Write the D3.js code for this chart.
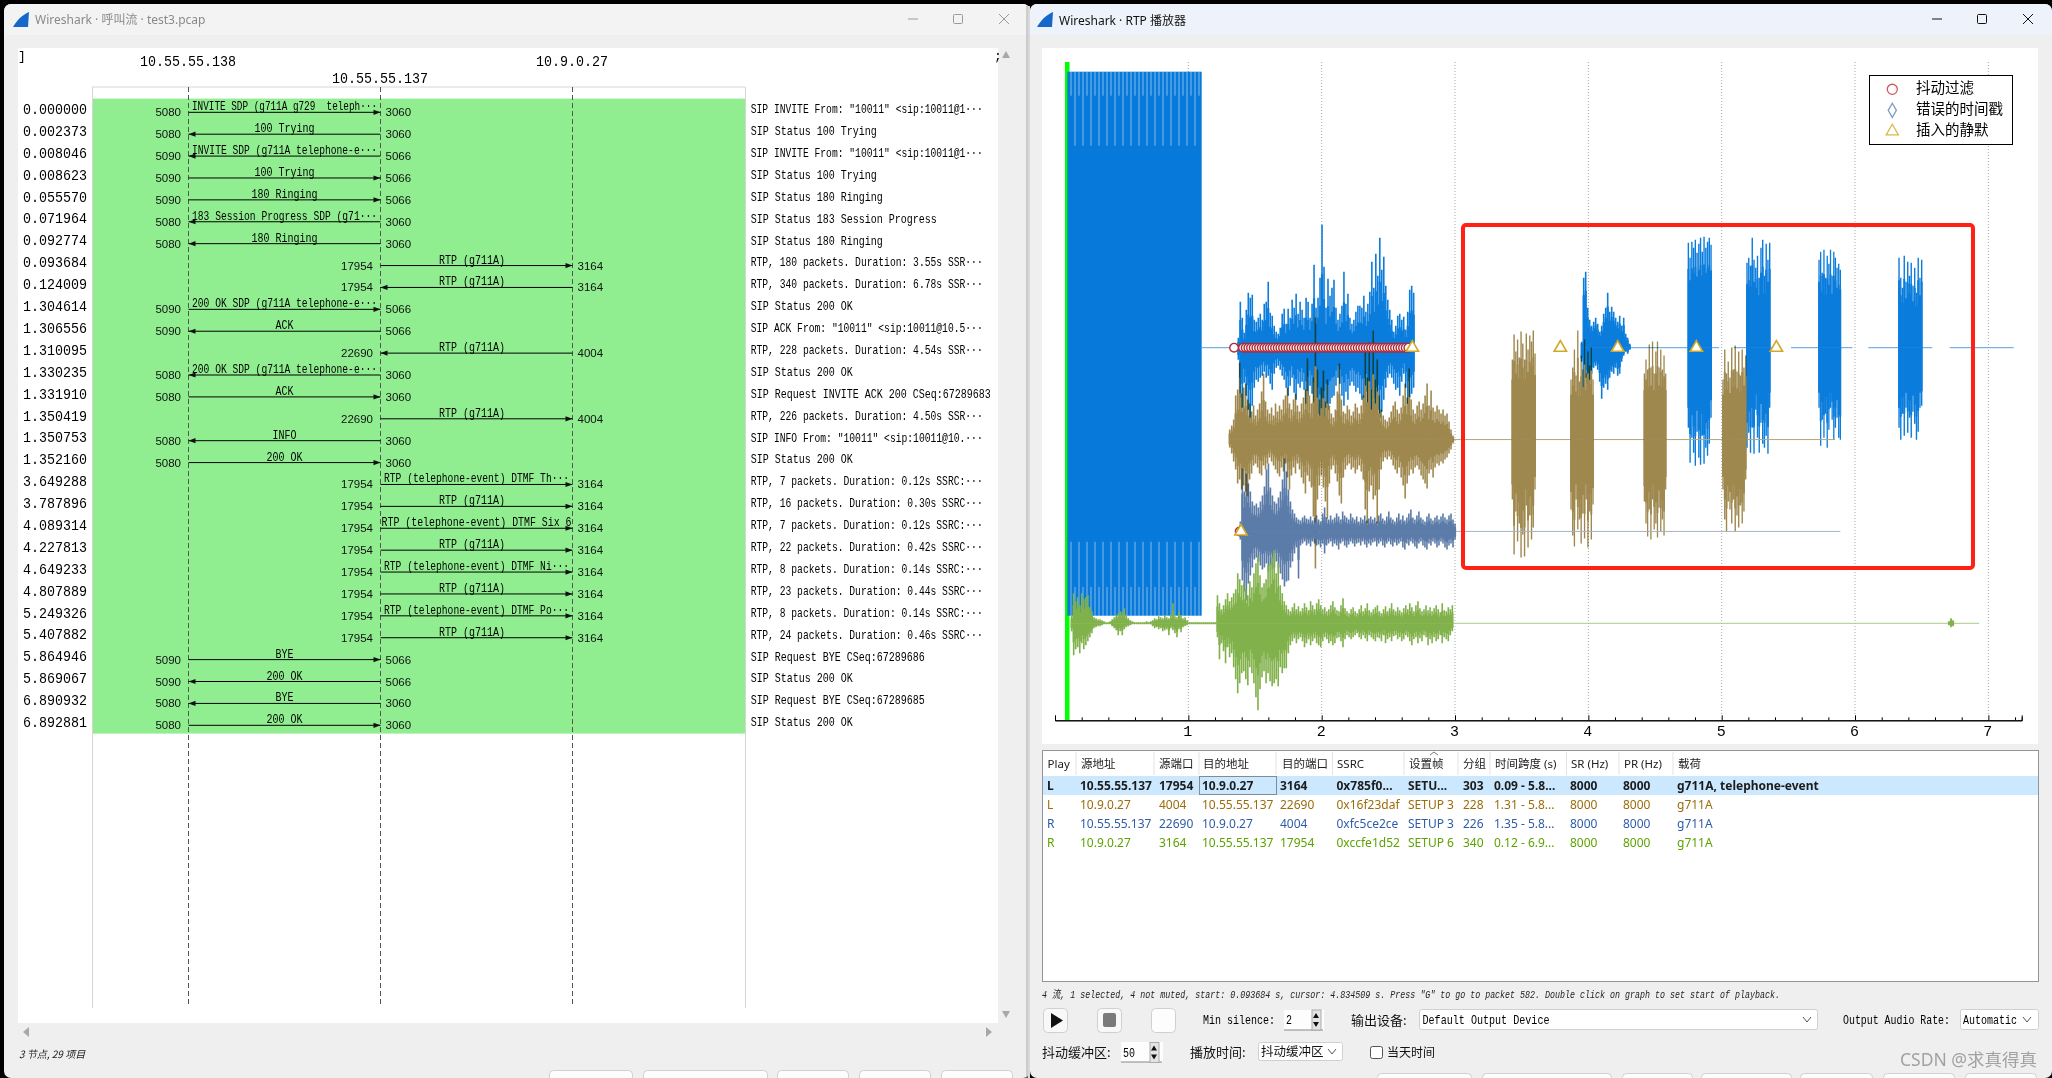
<!DOCTYPE html>
<html>
<head>
<meta charset="utf-8">
<title>Wireshark RTP</title>
<script src="https://cdn.jsdelivr.net/npm/d3@7"></script>
<style>
	html, body { margin: 0; padding: 0; background: #000; overflow: hidden; }
	svg { display: block; }
	text { white-space: pre; }
</style>
</head>
<body>
<svg id="shot" width="2052" height="1078"></svg>
<script>
// flow graph rows
var times = ['0.000000','0.002373','0.008046','0.008623','0.055570','0.071964','0.092774','0.093684','0.124009','1.304614','1.306556','1.310095','1.330235','1.331910','1.350419','1.350753','1.352160','3.649288','3.787896','4.089314','4.227813','4.649233','4.807889','5.249326','5.407882','5.864946','5.869067','6.890932','6.892881'];
var fromNode = [0,1,1,0,0,1,1,1,2,0,1,2,1,0,1,1,0,1,1,1,1,1,1,1,1,0,1,1,0];
var toNode = [1,0,0,1,1,0,0,2,1,1,0,1,0,1,2,0,1,2,2,2,2,2,2,2,2,1,0,0,1];
var leftPorts = [5080,5080,5090,5090,5090,5080,5080,17954,17954,5090,5090,22690,5080,5080,22690,5080,5080,17954,17954,17954,17954,17954,17954,17954,17954,5090,5090,5080,5080];
var rightPorts = [3060,3060,5066,5066,5066,3060,3060,3164,3164,5066,5066,4004,3060,3060,4004,3060,3060,3164,3164,3164,3164,3164,3164,3164,3164,5066,5066,3060,3060];
var flowLabels = ['INVITE SDP (g711A g729  teleph···','100 Trying','INVITE SDP (g711A telephone-e···','100 Trying','180 Ringing','183 Session Progress SDP (g71···','180 Ringing','RTP (g711A)','RTP (g711A)','200 OK SDP (g711A telephone-e···','ACK','RTP (g711A)','200 OK SDP (g711A telephone-e···','ACK','RTP (g711A)','INFO','200 OK','RTP (telephone-event) DTMF Th···','RTP (g711A)','RTP (telephone-event) DTMF Six 6','RTP (g711A)','RTP (telephone-event) DTMF Ni···','RTP (g711A)','RTP (telephone-event) DTMF Po···','RTP (g711A)','BYE','200 OK','BYE','200 OK'];
var comments = ['SIP INVITE From: "10011" <sip:10011@1···','SIP Status 100 Trying','SIP INVITE From: "10011" <sip:10011@1···','SIP Status 100 Trying','SIP Status 180 Ringing','SIP Status 183 Session Progress','SIP Status 180 Ringing','RTP, 180 packets. Duration: 3.55s SSR···','RTP, 340 packets. Duration: 6.78s SSR···','SIP Status 200 OK','SIP ACK From: "10011" <sip:10011@10.5···','RTP, 228 packets. Duration: 4.54s SSR···','SIP Status 200 OK','SIP Request INVITE ACK 200 CSeq:67289683','RTP, 226 packets. Duration: 4.50s SSR···','SIP INFO From: "10011" <sip:10011@10.···','SIP Status 200 OK','RTP, 7 packets. Duration: 0.12s SSRC:···','RTP, 16 packets. Duration: 0.30s SSRC···','RTP, 7 packets. Duration: 0.12s SSRC:···','RTP, 22 packets. Duration: 0.42s SSRC···','RTP, 8 packets. Duration: 0.14s SSRC:···','RTP, 23 packets. Duration: 0.44s SSRC···','RTP, 8 packets. Duration: 0.14s SSRC:···','RTP, 24 packets. Duration: 0.46s SSRC···','SIP Request BYE CSeq:67289686','SIP Status 200 OK','SIP Request BYE CSeq:67289685','SIP Status 200 OK'];
var nodeNames = ['10.55.55.138','10.55.55.137','10.9.0.27'];

// waveform envelopes, amplitude units where the clipped tone block is about 272
var blueSpeechTop = [10,46,30,15,38,55,50,53,28,26,30,34,28,44,46,66,35,32,22,16,14,20,34,39,24,39,30,48,40,54,34,46,38,30,50,46,30,44,83,40,50,70,123,81,40,69,52,60,68,40,28,34,42,76,44,54,30,24,28,36,42,42,40,52,36,44,56,86,60,94,72,110,78,91,62,48,38,28,16,22,32,34,28,31,18,36,58,62,55];
var blueSpeechBottom = [12,50,60,35,48,62,70,58,40,32,34,30,28,24,30,28,36,42,26,20,18,22,28,32,40,48,38,30,45,52,36,40,34,42,56,48,38,46,58,50,66,78,84,72,60,62,56,50,48,38,30,36,48,58,44,52,38,34,38,44,40,46,52,50,44,56,68,72,84,66,62,70,64,52,40,30,26,30,36,42,40,48,34,26,40,56,50,46,40];
var blueTalkTop = [6,70,76,40,28,22,26,30,24,16,22,34,40,55,36,41,36,30,26,32,22,30,14,10,4];
var blueTalkBottom = [14,54,30,36,32,26,20,18,22,34,51,40,36,42,30,24,26,20,28,26,14,8,4,6,2];
var blueToneATop = [105,90,106,100,108,95,104,110,96,111,100,106,110,103];
var blueToneABottom = [80,115,90,105,118,84,110,117,88,116,100,108,96,70];
var blueToneBTop = [85,90,82,110,88,80,92,70,100,108,72,104,88,105];
var blueToneBBottom = [100,85,105,80,106,62,90,105,75,96,100,88,106,60];
var blueToneCTop = [88,96,75,98,70,92,84,98,72,96,90,80,84,78];
var blueToneCBottom = [60,98,72,90,66,100,82,60,72,92,80,70,90,92];
var blueToneDTop = [90,70,60,92,66,86,72,85,62,80,55,90,70,88];
var blueToneDBottom = [80,92,66,88,60,85,70,90,64,76,92,84,60,58];
var brownSpeechTop = [10,14,20,44,50,77,46,52,56,40,36,28,34,24,30,36,48,66,38,30,26,32,24,36,28,34,30,40,44,52,36,30,40,46,34,28,36,42,50,81,44,36,62,122,70,40,52,69,38,60,34,26,22,30,48,76,40,28,26,34,30,24,28,36,32,26,34,44,90,62,97,50,109,60,80,44,30,24,20,18,22,28,34,38,30,26,32,44,56,42,71,40,30,26,34,38,30,36,44,56,34,49,32,28,34,30,26,30,24,26,18,10,4];
var brownSpeechBottom = [8,14,22,30,44,40,50,46,52,57,40,34,26,24,28,34,36,26,30,24,18,22,26,30,34,37,28,32,24,38,50,36,28,34,24,30,38,44,54,36,42,48,77,129,60,46,36,48,62,79,44,30,26,34,42,56,64,38,30,26,24,30,28,34,30,26,32,40,70,84,52,46,60,56,84,50,30,22,18,20,17,20,26,30,34,28,38,46,59,44,36,30,34,28,26,30,36,40,44,49,34,30,38,28,24,26,22,24,20,18,14,10,4];
var brownToneATop = [80,105,88,100,82,108,96,80,106,90,104,98,109,86];
var brownToneABottom = [60,115,72,102,84,118,95,117,66,108,76,100,88,50];
var brownToneBTop = [60,72,90,64,109,58,84,70,100,66,88,74,92,60];
var brownToneBBottom = [70,96,107,60,90,80,104,74,99,60,108,72,100,65];
var brownToneCTop = [66,80,70,95,72,98,66,88,98,72,90,70,84,66];
var brownToneCBottom = [62,84,97,70,100,60,90,84,98,68,92,80,96,50];
var brownToneDTop = [60,90,66,78,62,92,70,94,68,88,64,90,72,84];
var brownToneDBottom = [50,80,92,62,70,84,60,92,76,88,66,84,72,40];
var slateSpeechTop = [10,63,40,58,48,40,30,26,28,24,30,36,45,62,68,44,36,30,28,34,40,52,73,60,42,30,22,18,14,12,11,14,16,13,12,15,11,14,16,12,10,18,24,14,12,16,12,14,18,15,12,20,16,14,12,18,14,12,15,10,14,12,16,11,13,15,12,14,10,16,18,13,11,15,20,14,12,10,14,18,12,16,11,14,18,22,14,12,16,20,14,12,10,15,18,13,11,14,16,12,15,18,14,12,16,18,12,8];
var slateSpeechBottom = [8,49,60,69,52,44,36,28,26,30,34,38,36,32,40,34,38,36,30,36,42,48,55,50,49,36,30,22,16,47,14,12,10,14,12,15,10,12,14,13,16,12,22,14,12,10,15,12,14,18,12,10,14,16,13,10,12,15,12,11,14,10,13,16,12,14,11,10,15,12,10,14,16,12,10,13,15,11,14,12,10,16,18,12,14,10,12,15,17,12,10,14,16,18,12,14,10,12,16,14,10,12,16,18,14,12,16,8];
var greenSpeechTop = [8,30,22,26,18,30,24,26,28,16,12,6,5,4,4,3,2,1,1,2,4,6,8,10,12,11,15,8,5,3,2,1,1,1,1,1,1,2,1,2,3,5,4,7,6,5,8,6,5,9,20,7,6,12,8,5,6,3,1,1,1,1,1,1,1,1,1,1,1,1,1,1,28,20,14,18,24,30,22,26,30,34,50,44,38,40,34,28,42,36,50,60,67,48,36,40,44,58,60,66,73,50,60,38,30,22,18,14,12,16,20,14,17,12,15,20,16,13,22,18,14,20,24,18,14,16,12,14,18,22,16,13,12,18,25,15,12,10,14,16,12,10,14,18,12,15,20,13,11,14,16,18,12,10,14,17,12,15,20,14,12,16,13,11,15,18,14,20,16,12,18,22,15,12,14,18,13,16,12,15,18,14,11,20,13,12,16,14,18];
var greenSpeechBottom = [8,32,26,24,30,20,26,22,18,14,10,5,4,3,3,2,1,1,1,1,3,5,7,12,8,12,6,4,3,2,1,1,1,1,1,1,1,1,1,1,3,5,4,6,5,8,7,6,12,5,7,10,14,6,9,4,3,2,1,1,1,1,1,1,1,1,1,1,1,1,1,1,14,36,20,28,40,24,34,30,44,56,70,60,50,48,56,62,44,50,60,74,87,66,54,48,60,50,58,63,60,56,63,44,50,45,45,30,22,18,15,20,16,14,18,24,20,16,22,18,15,20,22,24,18,14,16,20,18,22,20,15,14,18,24,16,12,14,16,14,12,10,14,16,12,15,18,12,14,16,18,14,15,18,12,20,16,14,18,13,12,16,14,18,16,12,14,18,22,16,14,20,15,18,12,14,22,16,20,14,18,16,12,20,14,16,18,12,8];
var greenBlipTop = [2,5,3];
var greenBlipBottom = [2,4,3];

// start and end in seconds of each burst
var blueBursts = [[1.375,2.69,blueSpeechTop,blueSpeechBottom],[3.95,4.31,blueTalkTop,blueTalkBottom],[4.75,4.92,blueToneATop,blueToneABottom],[5.19,5.36,blueToneBTop,blueToneBBottom],[5.73,5.89,blueToneCTop,blueToneCBottom],[6.33,6.50,blueToneDTop,blueToneDBottom]];
var brownBursts = [[1.31,2.985,brownSpeechTop,brownSpeechBottom],[3.43,3.60,brownToneATop,brownToneABottom],[3.87,4.035,brownToneBTop,brownToneBBottom],[4.42,4.58,brownToneCTop,brownToneCBottom],[5.01,5.18,brownToneDTop,brownToneDBottom]];
var slateBursts = [[1.39,3.0,slateSpeechTop,slateSpeechBottom]];
var greenBursts = [[0.125,2.98,greenSpeechTop,greenSpeechBottom],[6.705,6.735,greenBlipTop,greenBlipBottom]];

// quiet stretches drawn as a flat line
var blueQuiet = [[1.10,1.375],[4.31,4.75],[4.92,4.98],[5.09,5.19],[5.36,5.41],[5.52,5.73],[5.89,5.98],[6.10,6.33],[6.50,6.58],[6.71,7.19]];
var brownQuiet = [[2.985,3.43],[3.60,3.87],[4.035,4.42],[4.58,5.01],[5.18,5.85]];
var slateQuiet = [[3.0,5.89]];
var greenQuiet = [[2.98,6.93]];

// the first blue stream is a clipped tone with gaps in it
var blueToneSpan = [0.0925,1.10];
var blueToneLevels = [276,268];
var blueGapsLong = [0.15,0.21,0.27,0.33,0.39,0.45,0.51,0.57,0.63,0.69,0.75,0.81,0.87,0.93,0.99,1.05];
var blueGapsShort = [0.12,0.18,0.24,0.30,0.36,0.42,0.48,0.54,0.60,0.66,0.72,0.78,0.84,0.90,0.96,1.02,1.08];
var gapDepths = [74,24];

var jitterDrops = [1.343,1.41,1.43,1.45,1.47,1.49,1.51,1.53,1.55,1.57,1.59,1.61,1.63,1.65,1.67,1.69,1.71,1.73,1.75,1.77,1.79,1.81,1.83,1.85,1.87,1.89,1.91,1.93,1.95,1.97,1.99,2.01,2.03,2.05,2.07,2.09,2.11,2.13,2.15,2.17,2.19,2.21,2.23,2.25,2.27,2.29,2.31,2.33,2.35,2.37,2.39,2.41,2.43,2.45,2.47,2.49,2.51,2.53,2.55,2.57,2.59,2.61,2.63,2.65];
var blueSilence = [2.68,3.79,4.22,4.81,5.41];
var slateDrops = [1.385];
var slateSilence = [1.395];
var cursorTime = 0.093684;

var axisMajor = [1,2,3,4,5,6,7];
var axisMinor = [0.2,0.4,0.6,0.8,1.2,1.4,1.6,1.8,2.2,2.4,2.6,2.8,3.2,3.4,3.6,3.8,4.2,4.4,4.6,4.8,5.2,5.4,5.6,5.8,6.2,6.4,6.6,6.8,7.2];
var legendLabels = ['抖动过滤','错误的时间戳','插入的静默'];

// stream table
var tableHead = ['Play','源地址','源端口','目的地址','目的端口','SSRC','设置帧','分组','时间跨度 (s)','SR (Hz)','PR (Hz)','载荷'];
var streamRows = [
	['L','10.55.55.137','17954','10.9.0.27','3164','0x785f0...','SETU...','303','0.09 - 5.8...','8000','8000','g711A, telephone-event'],
	['L','10.9.0.27','4004','10.55.55.137','22690','0x16f23daf','SETUP 3','228','1.31 - 5.8...','8000','8000','g711A'],
	['R','10.55.55.137','22690','10.9.0.27','4004','0xfc5ce2ce','SETUP 3','226','1.35 - 5.8...','8000','8000','g711A'],
	['R','10.9.0.27','3164','10.55.55.137','17954','0xccfe1d52','SETUP 6','340','0.12 - 6.9...','8000','8000','g711A']
];
var streamColors = ['#1c1c1c','#9a6c0c','#2f5ca8','#5ca300'];

var mono = '"Liberation Mono","Noto Sans CJK SC",monospace';
var ui = '"Noto Sans","Noto Sans CJK SC",sans-serif';
var cjk = '"Noto Sans CJK SC","Noto Sans",sans-serif';

var svg = d3.select('#shot');

function box(x, y, w, h, fill, stroke, r){
	return svg.append('rect').attr('x',x).attr('y',y).attr('width',w).attr('height',h)
		.attr('fill',fill).attr('stroke',stroke||'none').attr('rx',r||0);
}
function line(g, x1, y1, x2, y2, color, width){
	return g.append('line').attr('x1',x1).attr('y1',y1).attr('x2',x2).attr('y2',y2)
		.attr('stroke',color).attr('stroke-width',width||1);
}
function label(g, x, y, str, family, size, color, anchor){
	return g.append('text').attr('x',x).attr('y',y).text(str)
		.attr('font-family',family).attr('font-size',size).attr('fill',color||'#000')
		.attr('text-anchor',anchor||'start');
}
// simsun look-alike: mono glyphs squeezed to the cell width of the picture
function cell(g, x, y, str, size, width, anchor){
	return label(g, x, y, str, mono, size, '#000', anchor)
		.attr('textLength',width).attr('lengthAdjust','spacingAndGlyphs');
}
function fin(x, y){
	svg.append('path').attr('fill','#1668c8')
		.attr('d','M'+x+' '+(y+15)+'C'+(x+4)+' '+(y+8)+' '+(x+9)+' '+(y+3)+' '+(x+16)+' '+y+'L'+(x+15)+' '+(y+15)+'Z');
}
function winButtons(color, xs){
	line(svg, xs[0]-5, 19, xs[0]+5, 19, color);
	box(xs[1]-4.5, 14.5, 9, 9, 'none', color, 1);
	line(svg, xs[2]-5, 14, xs[2]+5, 24, color);
	line(svg, xs[2]-5, 24, xs[2]+5, 14, color);
}
function pushButton(x, y, w, h, fill){
	box(x+.5, y+.5, w, h, fill||'#fdfdfd', '#d0d0d0', 4);
}
function spin(x, y){
	box(x-4, y-10, 9, 20, '#e4e4e4', '#aaa');
	svg.append('path').attr('d','M'+(x-3)+' '+(y-2)+'h6l-3 -5z M'+(x-3)+' '+(y+2)+'h6l-3 5z').attr('fill','#111');
}
function chevron(x, y){
	svg.append('path').attr('d','M'+(x-4)+' '+(y-2)+'l4 5l4 -5').attr('fill','none').attr('stroke','#555');
}

// window frames
box(4, 4, 1026, 1074, '#efefef', null, 7);
box(4, 4, 1026, 31, '#f3f3f3', null, 7);
box(4, 20, 1026, 15, '#f3f3f3');
box(1026.5, 6, 1, 1072, '#a8a8a8');
box(1028, 6, 2, 1072, '#d8d8d8');
box(1030, 4, 1022, 1074, '#efefef', null, 7);
box(1030, 4, 1022, 31, '#eef2fa', null, 7);
box(1030, 20, 1022, 15, '#eef2fa');
fin(13, 12);
fin(1037, 12);
label(svg, 35, 24, 'Wireshark · 呼叫流 · test3.pcap', ui, 12, '#8a8a8a');
label(svg, 1059, 24.5, 'Wireshark · RTP 播放器', ui, 12, '#111');
winButtons('#9a9a9a', [913,958,1004]);
winButtons('#111', [1937,1982,2028]);

// flow graph
box(18, 48, 980, 975, '#fff');
var nodeX = d3.scalePoint().domain([0,1,2]).range([188.5,572.5]);
var rowY = d3.scaleLinear().domain([0,times.length-1]).range([112.3,725.3]);
var flow = svg.append('g');
flow.append('rect').attr('x',92).attr('y',rowY(0)-13.7).attr('width',653)
	.attr('height',rowY(times.length-1)-rowY(0)+22).attr('fill','#90ee90');
line(flow, 92, 87, 745, 87, '#d6d6d6');
line(flow, 92.5, 87, 92.5, 1008, '#d6d6d6');
line(flow, 745.5, 87, 745.5, 1008, '#d6d6d6');
flow.selectAll('.node').data([0,1,2]).enter().append('line').attr('class','node')
	.attr('x1',function(d){return nodeX(d);}).attr('x2',function(d){return nodeX(d);})
	.attr('y1',87).attr('y2',1007).attr('stroke','#555').attr('stroke-dasharray','5,3');
cell(flow, 188, 66, nodeNames[0], 15, 96, 'middle');
cell(flow, 380, 83.3, nodeNames[1], 15, 96, 'middle');
cell(flow, 572, 66, nodeNames[2], 15, 72, 'middle');
label(flow, 18, 60, ']', mono, 13);
label(flow, 994, 60, ';', mono, 13);

times.forEach(function(t, i){
	var y = rowY(i), a = nodeX(fromNode[i]), b = nodeX(toNode[i]);
	var lo = Math.min(a,b), hi = Math.max(a,b), dir = b > a ? 1 : -1;
	cell(flow, 23, y+1.7, t, 15, 64);
	line(flow, lo, y, hi, y, '#000');
	flow.append('path').attr('fill','#111')
		.attr('d','M'+b+' '+y+'l'+(-7*dir)+' -2.6v5.2z');
	label(flow, lo-7.5, y+4, leftPorts[i], '"Liberation Sans"', 11.5, '#111', 'end');
	label(flow, hi+5, y+4, rightPorts[i], '"Liberation Sans"', 11.5, '#111');
	var str = flowLabels[i], cut = str.slice(-1) == '·';
	var mid = (lo+hi)/2 - (hi > 400 && !cut && str.length < 20 ? 4.5 : 0);
	cell(flow, mid, y-2, str, 13, cut ? 185 : Math.min(str.length*6,190), 'middle');
	var note = comments[i];
	cell(flow, 750.7, y+0.9, note, 13, note.slice(-1) == '·' ? 232 : note.length*6);
});
svg.append('path').attr('d','M1002 58h8l-4 -7z M1002 1011h8l-4 7z M23 1032l6 -5v10z M992 1032l-6 -5v10z').attr('fill','#a8a8a8');
label(svg, 19, 1058, '3 节点, 29 项目', cjk, 10, '#222').attr('font-style','italic');
[[549,83],[643,124],[777,71],[859,71],[941,71]].forEach(function(b){ pushButton(b[0], 1070, b[1], 14); });

// rtp player plot
box(1042, 48, 996, 696, '#fff');
var x = d3.scaleLinear().domain([0,7.25]).range([1055,2021.7]);
var amp = d3.scaleLinear().domain([0,272]).range([0,272]);
var center = d3.scalePoint().domain(['blue','brown','slate','green']).range([347.7,623.3]);
var plot = svg.append('g');

plot.selectAll('.grid').data(axisMajor).enter().append('line').attr('class','grid')
	.attr('x1',function(d){return x(d);}).attr('x2',function(d){return x(d);})
	.attr('y1',62).attr('y2',715).attr('stroke','#a8a8a8').attr('stroke-dasharray','1,2');

plot.append('rect').attr('x',x(cursorTime)-2.5).attr('y',62).attr('width',4.5).attr('height',658).attr('fill','#00ff00');

// one stem per value for the spikes, solid core on top of them
function stems(list, base, dir, color, coreShare, blend){
	var xi = d3.scaleLinear().domain([0,list.values.length-1]).range([x(list.t0),x(list.t1)]);
	var step = Math.abs(xi(1)-xi(0));
	function stemPath(share){
		return list.values.map(function(v,i){ return 'M'+xi(i)+' '+base+'V'+(base+dir*amp(v)*share); }).join('');
	}
	plot.append('path').attr('fill','none').attr('stroke',color).attr('stroke-width',step*0.8).attr('d',stemPath(1))
		.style('mix-blend-mode',blend);
	plot.append('path').attr('fill','none').attr('stroke',color).attr('stroke-width',step*1.1).attr('d',stemPath(coreShare));
}
function waveform(name, bursts, quiet, color, thin, blend){
	var base = center(name);
	quiet.forEach(function(q){ line(plot, x(q[0]), base, x(q[1]), base, thin); });
	bursts.forEach(function(b){
		var share = b[2].length < 30 ? 0.75 : 0.6;
		stems({t0:b[0],t1:b[1],values:b[2]}, base, -1, color, share, blend);
		stems({t0:b[0],t1:b[1],values:b[3]}, base, 1, color, share, blend);
	});
}

// blue tone block
var blueBase = center('blue');
plot.append('rect').attr('x',x(blueToneSpan[0])).attr('width',x(blueToneSpan[1])-x(blueToneSpan[0]))
	.attr('y',blueBase-amp(blueToneLevels[0])).attr('height',amp(blueToneLevels[0])+amp(blueToneLevels[1]))
	.attr('fill','#0679da');
function gaps(times, y1, y2){
	times.forEach(function(t){ line(plot, x(t), y1, x(t), y2, 'rgba(255,255,255,.5)'); });
}
gaps(blueGapsLong, blueBase-amp(blueToneLevels[0]), blueBase-amp(blueToneLevels[0]-gapDepths[0]));
gaps(blueGapsShort, blueBase-amp(blueToneLevels[0]), blueBase-amp(blueToneLevels[0]-gapDepths[1]));
gaps(blueGapsShort, blueBase+amp(blueToneLevels[1]), blueBase+amp(blueToneLevels[1]-gapDepths[0]));
gaps(blueGapsLong, blueBase+amp(blueToneLevels[1]), blueBase+amp(blueToneLevels[1]-gapDepths[1]*1.2));

waveform('blue', blueBursts, blueQuiet, '#0a7cdc', '#5a9fe0', 'normal');
waveform('brown', brownBursts, brownQuiet, '#9f884e', '#b3a67e', 'multiply');
waveform('slate', slateBursts, slateQuiet, '#5b7ba9', '#a6b2c6', 'multiply');
waveform('green', greenBursts, greenQuiet, '#80b14a', '#a9cb8d', 'normal');

var circleMark = d3.symbol().type(d3.symbolCircle).size(58);
var triangleMark = d3.symbol().type(d3.symbolTriangle).size(66);
var diamondMark = d3.symbol().type(d3.symbolDiamond).size(58);
function marks(list, base, shape, stroke, width){
	plot.selectAll(null).data(list).enter().append('path').attr('d',shape)
		.attr('transform',function(d){ return 'translate('+x(d)+','+base+')'; })
		.attr('fill','#fff').attr('stroke',stroke).attr('stroke-width',width);
}
marks(jitterDrops, center('blue'), circleMark, '#b02a36', 1.4);
marks(blueSilence, center('blue'), triangleMark, '#d2a826', 1.6);
marks(slateDrops, center('slate'), circleMark, '#b02a36', 1.4);
marks(slateSilence, center('slate'), triangleMark, '#d2a826', 1.6);

var axisY = 720.3;
var minor = plot.append('g').attr('transform','translate(0,'+axisY+')')
	.call(d3.axisBottom(x).tickValues(axisMinor).tickSize(-3).tickFormat(''));
var major = plot.append('g').attr('transform','translate(0,'+axisY+')')
	.call(d3.axisBottom(x).tickValues(axisMajor).tickSize(-5).tickPadding(5).tickFormat(d3.format('d')));
minor.select('.domain').attr('stroke-width',1);
major.select('.domain').attr('stroke-width',1);
major.selectAll('text').attr('font-family',mono).attr('font-size',15).attr('fill','#000').attr('dx',-1);

// legend
var legend = svg.append('g');
legend.append('rect').attr('x',1869.5).attr('y',75.5).attr('width',143).attr('height',69).attr('fill','#fff').attr('stroke','#000');
var legendY = d3.scalePoint().domain([0,1,2]).range([89.3,131.3]);
var legendMarks = [[d3.symbol().type(d3.symbolCircle).size(80),'#cf5a5e'],[diamondMark,'#7f9bc8'],[d3.symbol().type(d3.symbolTriangle).size(64),'#dcb84a']];
legendLabels.forEach(function(t, i){
	legend.append('path').attr('d',legendMarks[i][0]).attr('transform','translate(1892.3,'+legendY(i)+')')
		.attr('fill','none').attr('stroke',legendMarks[i][1]).attr('stroke-width',1.3);
	label(legend, 1916, legendY(i)+4, t, cjk, 14.5, '#000');
});

// red annotation box
svg.append('rect').attr('x',1463).attr('y',225).attr('width',510).attr('height',343)
	.attr('fill','none').attr('stroke','#ff2114').attr('stroke-width',4).attr('rx',3);

// stream table
box(1042.5, 750.5, 996, 231, '#fff', '#8f959c');
var colText = [1047,1080,1159,1202,1280,1336.5,1408,1463,1494,1570,1623,1677];
var colHead = [1047.5,1081,1159,1203,1282,1337,1409,1463,1495,1571,1624,1678];
var colEdge = [1076,1154,1199,1276,1332.5,1404,1458,1490,1566.5,1619,1673];
colEdge.forEach(function(e){ line(svg, e, 752, e, 775, '#e3e3e3'); });
tableHead.forEach(function(h, i){ label(svg, colHead[i], 768, h, ui, 11.5, '#222'); });
svg.append('path').attr('d','M1430 755l4 -3l4 3').attr('fill','none').attr('stroke','#777');
box(1043, 776, 995, 19, '#cce8ff');
var tableY = d3.scaleLinear().domain([0,3]).range([790,846.5]);
streamRows.forEach(function(row, r){
	row.forEach(function(v, c){
		label(svg, colText[c], tableY(r), v, ui, 12, streamColors[r]).attr('font-weight',r == 0 ? 700 : 400);
	});
});
box(1199.5, 776.5, 77, 18, 'none', '#333').attr('stroke-dasharray','1,1');

// controls under the table
var statusLine = '4 流, 1 selected, 4 not muted, start: 0.093684 s, cursor: 4.834509 s. Press "G" to go to packet 582. Double click on graph to set start of playback.';
cell(svg, 1042, 998, statusLine, 11, 738).attr('font-style','italic').attr('fill','#222');
pushButton(1043, 1008, 24, 24, '#f8f8f8');
pushButton(1097, 1008, 24, 24, '#f8f8f8');
pushButton(1151, 1008, 24, 24, '#fdfdfd');
svg.append('path').attr('d','M1051 1013l12 7.5l-12 7.5z').attr('fill','#111');
box(1103, 1013, 13, 14, '#7a7a7a', null, 2);
cell(svg, 1203, 1024, 'Min silence:', 13, 72);
box(1284, 1010, 40, 20, '#fdfdfd');
line(svg, 1284, 1030, 1323, 1030, '#888');
cell(svg, 1286, 1024, '2', 13, 6);
spin(1316, 1020);
label(svg, 1351, 1025, '输出设备:', cjk, 13, '#111');
box(1419.5, 1009.5, 398, 20, '#fff', '#d0d0d0', 2);
cell(svg, 1422.5, 1024, 'Default Output Device', 13, 127);
chevron(1807, 1019);
cell(svg, 1843, 1024, 'Output Audio Rate:', 13, 107);
box(1960.5, 1009.5, 78, 20, '#fff', '#d0d0d0', 2);
cell(svg, 1963, 1024, 'Automatic', 13, 54);
chevron(2027, 1019);
label(svg, 1042, 1057, '抖动缓冲区:', cjk, 13, '#111');
box(1121, 1042, 42, 20, '#fdfdfd');
line(svg, 1121, 1062, 1162, 1062, '#888');
cell(svg, 1123, 1057, '50', 13, 12);
spin(1154, 1052.5);
label(svg, 1190, 1057, '播放时间:', cjk, 13, '#111');
box(1258.5, 1042.5, 84, 18, '#fff', '#d0d0d0', 2);
label(svg, 1261, 1056, '抖动缓冲区', cjk, 12.5, '#111');
chevron(1332, 1051);
box(1370.5, 1046.5, 12, 12, '#fff', '#555', 2);
label(svg, 1387, 1057, '当天时间', cjk, 12, '#111');
[[1377,94],[1482,129],[1622,70],[1701,90],[1800,72],[1883,71],[1965,71]].forEach(function(b){ pushButton(b[0], 1073, b[1], 14); });
label(svg, 1900, 1066, 'CSDN @求真得真', ui, 17.5, 'rgba(110,110,110,.6)');
</script>
</body>
</html>
